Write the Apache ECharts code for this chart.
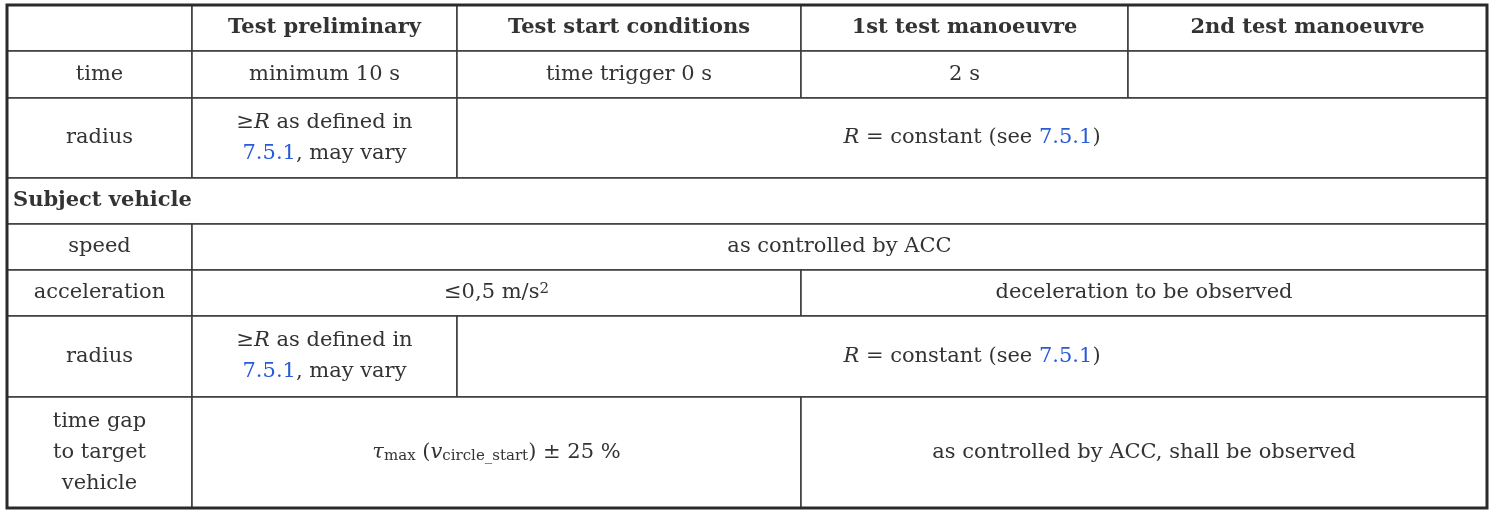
<!DOCTYPE html>
<html><head><meta charset="utf-8">
<script src="https://cdn.jsdelivr.net/npm/echarts@6/dist/echarts.min.js"></script>
<style>html,body{margin:0;background:#fff}#c{width:1497px;height:517px}</style>
</head><body><div id="c"></div>
<script>
// Table content
const headers = ["", "Test preliminary", "Test start conditions", "1st test manoeuvre", "2nd test manoeuvre"];
const rowLabels = ["time", "radius", "Subject vehicle", "speed", "acceleration", "radius", "time gap\nto target\nvehicle"];
const timeValues = ["minimum 10 s", "time trigger 0 s", "2 s", ""];
const radiusPrelim = "≥{i|R} as defined in\n{u|7.5.1}, may vary";
const radiusConst = "{i|R} = constant (see {u|7.5.1})";
const speedText = "as controlled by ACC";
const accelTexts = ["≤0,5 m/s{sup|2}", "deceleration to be observed"];
const gapTexts = ["{i|τ}{sub|max} ({i|v}{sub|circle_start}) ± 25 %", "as controlled by ACC, shall be observed"];

// Layout (separate from data)
const colEdges = [7, 192, 457, 801, 1128, 1487];
const rowEdges = [5, 51, 98, 178, 224, 270, 316, 397, 508];

// cells: [row, colStart, colEnd(exclusive), text, bold, leftAlign]
const cells = [];
headers.forEach((h, i) => cells.push([0, i, i + 1, h, true]));
cells.push([1, 0, 1, rowLabels[0]]);
timeValues.forEach((t, i) => cells.push([1, i + 1, i + 2, t]));
cells.push([2, 0, 1, rowLabels[1]], [2, 1, 2, radiusPrelim], [2, 2, 5, radiusConst]);
cells.push([3, 0, 5, rowLabels[2], true, true]);
cells.push([4, 0, 1, rowLabels[3]], [4, 1, 5, speedText]);
cells.push([5, 0, 1, rowLabels[4]], [5, 1, 3, accelTexts[0]], [5, 3, 5, accelTexts[1]]);
cells.push([6, 0, 1, rowLabels[5]], [6, 1, 2, radiusPrelim], [6, 2, 5, radiusConst]);
cells.push([7, 0, 1, rowLabels[6]], [7, 1, 3, gapTexts[0]], [7, 3, 5, gapTexts[1]]);

const FONT = "DejaVu Serif";
const SIZE = 21;
const COLOR = "#333";
const rich = {
  i: { fontStyle: 'italic', fontFamily: FONT, fontSize: SIZE, fill: COLOR, lineHeight: 31 },
  u: { fill: '#2a5bd7', fontFamily: FONT, fontSize: SIZE, lineHeight: 31 },
  sub: { fontSize: 15, fontFamily: FONT, fill: COLOR, padding: [8, 0, 0, 0], lineHeight: 31 },
  sup: { fontSize: 15, fontFamily: FONT, fill: COLOR, padding: [0, 0, 8, 0], lineHeight: 31 }
};

const elements = [];
cells.forEach(([r, c0, c1, text, bold, left]) => {
  const x = colEdges[c0], y = rowEdges[r], w = colEdges[c1] - x, h = rowEdges[r + 1] - y;
  elements.push({ type: 'rect', shape: { x, y, width: w, height: h },
    style: { fill: '#fff', stroke: '#3a3a3a', lineWidth: 1.5 } });
  if (text) elements.push({ type: 'text', x: left ? x + 6 : x + w / 2, y: y + h / 2,
    style: { text, rich, fontFamily: FONT, fontSize: SIZE, fontWeight: bold ? 'bold' : 'normal',
      fill: COLOR, align: left ? 'left' : 'center', verticalAlign: 'middle', lineHeight: 31 } });
});
elements.push({ type: 'rect', shape: { x: colEdges[0], y: rowEdges[0], width: colEdges[5] - colEdges[0], height: rowEdges[8] - rowEdges[0] },
  style: { fill: null, stroke: '#2a2a2a', lineWidth: 3 } });

const chart = echarts.init(document.getElementById('c'));
chart.setOption({ animation: false, graphic: { elements } });
</script></body></html>
